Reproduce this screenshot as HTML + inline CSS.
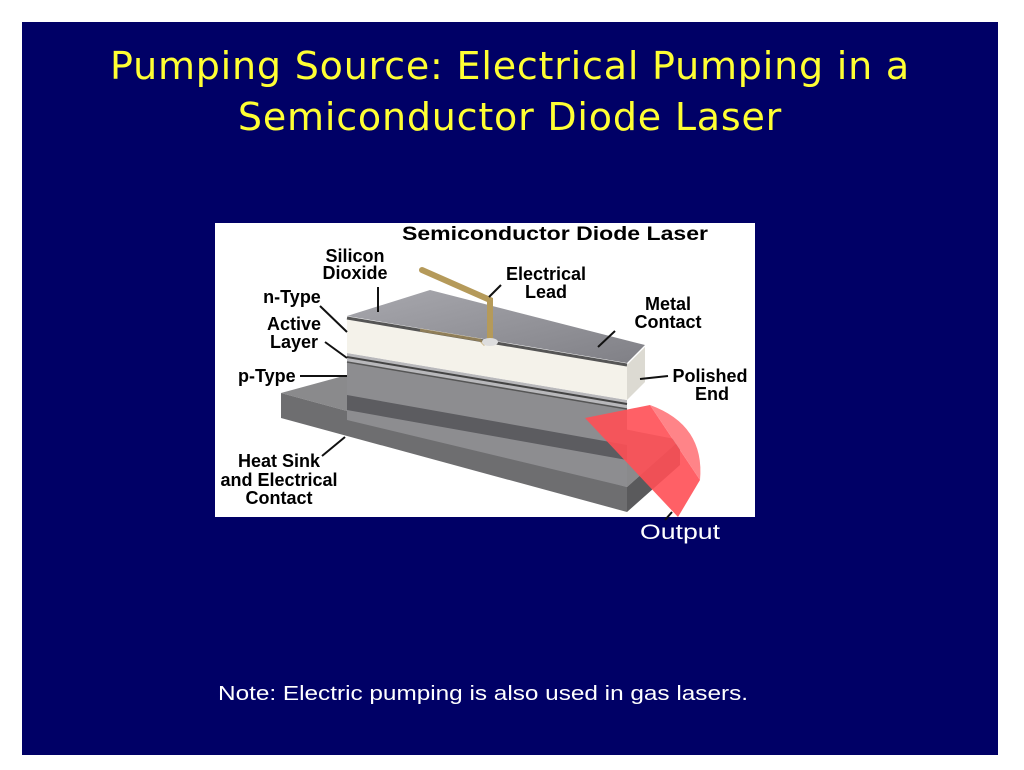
<!DOCTYPE html>
<html><head><meta charset="utf-8"><style>
body{margin:0;width:1024px;height:770px;background:#fff;position:relative;overflow:hidden;font-family:"Liberation Sans",sans-serif}
#bg{position:absolute;left:22px;top:22px;width:976px;height:733px;background:#000066}
.t{position:absolute;left:22px;width:976px;text-align:center;color:#ffff33;font-family:"DejaVu Sans","Liberation Sans",sans-serif;font-size:38px;letter-spacing:0.8px}
</style></head><body>
<div id="bg"></div>
<div class="t" style="top:44px">Pumping Source: Electrical Pumping in a</div>
<div class="t" style="top:95px">Semiconductor Diode Laser</div>
<svg style="position:absolute;left:0;top:0" width="1024" height="770" font-family="Liberation Sans,sans-serif" font-weight="bold" font-size="18">
<defs><linearGradient id="tp" x1="0" y1="0" x2="1" y2="1"><stop offset="0" stop-color="#a8a8ae"/><stop offset="1" stop-color="#808086"/></linearGradient></defs>
<rect x="215" y="223" width="540" height="294" fill="#fff"/>
<!-- base plate -->
<polygon points="281,393 347,375 680,440 627,487" fill="#8a8a8c"/>
<polygon points="281,393 627,487 627,512 281,418" fill="#6e6e70"/>
<polygon points="627,487 680,440 680,465 627,512" fill="#5a5a5c"/>
<!-- lower layers -->
<polygon points="347,362 627,409 627,487 347,420" fill="#8d8d90"/>
<polygon points="347,395 627,445 627,460 347,410" fill="#5c5c60"/>
<polygon points="347,353 627,400 627,409 347,362" fill="#b8b8bb"/>
<line x1="347" y1="357" x2="627" y2="404" stroke="#444" stroke-width="2"/>
<line x1="347" y1="362" x2="627" y2="409" stroke="#555" stroke-width="1.5"/>
<!-- white n-type -->
<polygon points="347,318 627,365 627,400 347,353" fill="#f4f2ea"/>
<polygon points="627,365 645,347 645,382 627,400" fill="#dcdad2"/>
<!-- top -->
<polygon points="347,316 430,290 645,345 627,363" fill="url(#tp)"/>
<line x1="347" y1="318" x2="627" y2="365" stroke="#555" stroke-width="3"/>
<!-- lead -->
<path d="M422,270 L490,300 L490,340" stroke="#b59a5a" stroke-width="6" fill="none" stroke-linecap="round"/>
<path d="M420,330 L480,340 L485,345" stroke="#b59a5a" stroke-width="3" fill="none" opacity="0.6"/>
<ellipse cx="490" cy="342" rx="8" ry="4" fill="#ddd"/>
<!-- laser beam -->
<polygon points="585,418 650,405 700,480 678,517" fill="#ff4f55" opacity="0.9"/>
<path d="M650,405 Q705,425 700,480" fill="#ff8488"/>
<!-- labels -->
<text x="402" y="240" font-size="19" textLength="306" lengthAdjust="spacingAndGlyphs">Semiconductor Diode Laser</text>
<g text-anchor="middle">
<text x="355" y="262">Silicon</text><text x="355" y="279">Dioxide</text>
<text x="546" y="280">Electrical</text><text x="546" y="298">Lead</text>
<text x="668" y="310">Metal</text><text x="668" y="328">Contact</text>
<text x="292" y="303">n-Type</text>
<text x="294" y="330">Active</text><text x="294" y="348">Layer</text>
<text x="710" y="382">Polished</text><text x="712" y="400">End</text>
<text x="279" y="467">Heat Sink</text><text x="279" y="486">and Electrical</text><text x="279" y="504">Contact</text>
</g>
<text x="238" y="382">p-Type</text>
<g stroke="#111" stroke-width="2">
<line x1="378" y1="287" x2="378" y2="312"/>
<line x1="489" y1="297" x2="501" y2="285"/>
<line x1="320" y1="306" x2="347" y2="332"/>
<line x1="325" y1="342" x2="347" y2="358"/>
<line x1="300" y1="376" x2="347" y2="376"/>
<line x1="640" y1="379" x2="668" y2="376"/>
<line x1="598" y1="347" x2="615" y2="331"/>
<line x1="322" y1="456" x2="345" y2="437"/>
<line x1="665" y1="520" x2="672" y2="512"/>
</g>
<text x="640" y="539" fill="#fff" font-weight="normal" font-size="21" textLength="80" lengthAdjust="spacingAndGlyphs">Output</text>
<text x="218" y="700" fill="#fff" font-weight="normal" font-size="20" textLength="530" lengthAdjust="spacingAndGlyphs">Note: Electric pumping is also used in gas lasers.</text>
</svg>
</body></html>
